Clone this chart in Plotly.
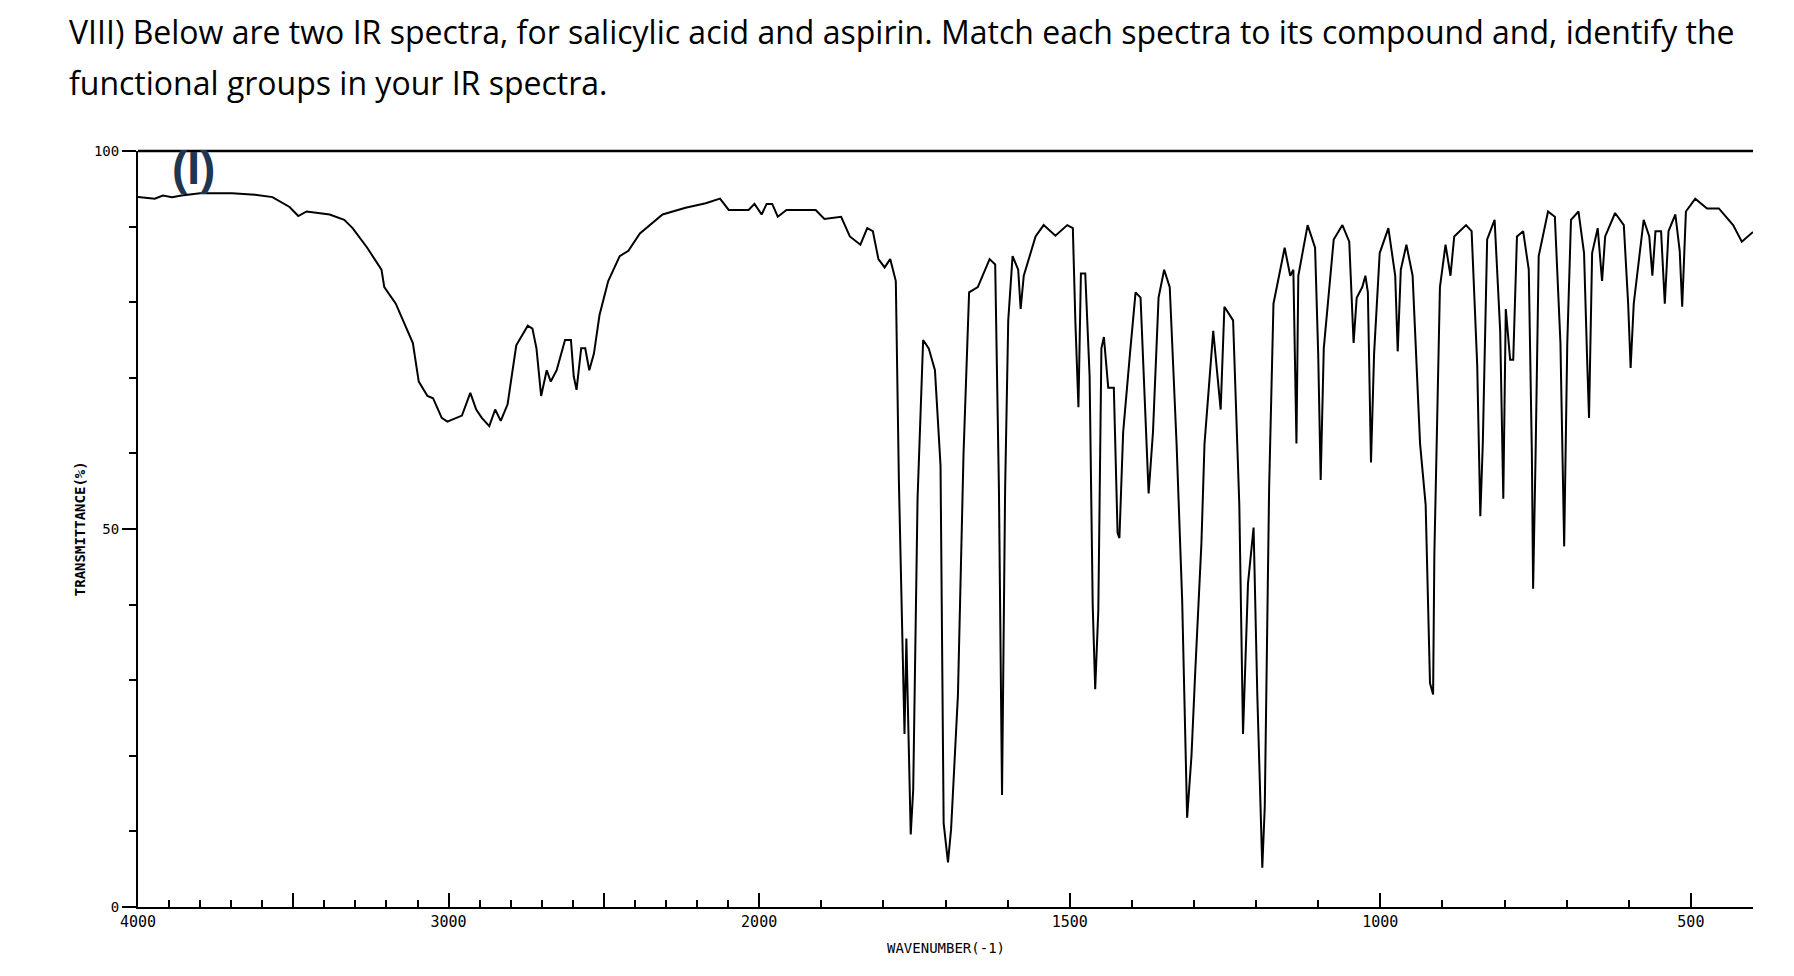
import plotly.graph_objects as go

wavenumber = [4000,3946,3920,3890,3860,3800,3697,3623,3567,3512,3484,3457,3383,3336,3309,3262,3216,3207,3170,3142,3115,3096,3068,3050,3022,3004,2957,2930,2911,2893,2869,2850,2832,2810,2782,2745,2730,2717,2702,2684,2671,2652,2625,2606,2597,2588,2573,2560,2547,2532,2514,2486,2449,2421,2384,2311,2237,2172,2126,2098,2034,2015,1996,1988,1979,1970,1956,1909,1895,1868,1854,1837,1826,1817,1808,1798,1789,1780,1775,1766,1763,1756,1752,1745,1736,1727,1717,1708,1703,1696,1691,1680,1671,1662,1648,1629,1620,1614,1609,1604,1599,1592,1583,1579,1574,1555,1542,1523,1504,1495,1491,1486,1482,1475,1468,1463,1459,1454,1449,1445,1438,1429,1423,1420,1414,1403,1394,1386,1380,1373,1366,1357,1348,1339,1328,1319,1311,1304,1298,1288,1283,1277,1269,1263,1257,1251,1237,1227,1221,1213,1204,1198,1190,1186,1179,1172,1163,1154,1145,1140,1135,1132,1117,1105,1100,1096,1091,1075,1061,1050,1043,1038,1029,1024,1020,1015,1010,1001,987,976,972,967,958,948,936,927,920,915,913,904,895,887,881,862,853,844,839,835,828,816,807,802,798,791,786,780,770,761,756,754,750,745,730,719,710,704,699,693,681,672,667,664,659,650,643,638,622,608,601,597,592,576,567,562,557,548,542,536,525,518,514,508,493,474,455,432,418,400]
transmittance = [93.9,93.7,94.1,93.9,94.1,94.4,94.4,94.2,93.9,92.6,91.4,92.0,91.6,90.9,89.8,87.2,84.3,82.0,79.8,77.2,74.6,69.5,67.6,67.3,64.7,64.2,65.0,68.0,65.8,64.7,63.6,65.8,64.3,66.5,74.3,76.9,76.5,73.9,67.6,71.0,69.5,71.0,75.0,75.0,70.2,68.4,73.9,73.9,71.0,73.2,78.3,82.8,86.1,86.8,89.1,91.6,92.5,93.1,93.7,92.2,92.2,93.0,91.6,93.0,93.0,91.3,92.2,92.2,91.0,91.3,88.7,87.6,89.8,89.4,85.7,84.6,85.7,82.8,56.2,22.9,35.5,9.6,15.5,54.0,75.0,73.9,71.0,58.4,11.1,5.9,10.3,28.0,59.9,81.3,82.0,85.7,85.0,55.4,14.8,55.4,77.6,86.1,84.3,79.1,83.5,88.7,90.2,88.8,90.2,89.8,77.6,66.1,83.8,83.8,70.2,39.9,28.8,39.2,73.9,75.4,68.7,68.7,49.5,48.8,62.8,73.2,81.3,80.6,68.7,54.7,62.8,80.6,84.3,82.0,61.3,40.6,11.8,20.0,31.0,48.1,61.3,68.0,76.2,71.0,65.8,79.4,77.6,53.2,22.9,42.8,50.2,28.0,5.2,13.3,55.4,79.8,83.5,87.2,83.5,84.3,61.3,83.5,90.2,87.2,73.2,56.5,73.9,88.3,90.2,88.0,74.6,80.6,82.0,83.5,81.3,58.8,73.2,86.5,89.8,83.5,73.5,84.3,87.6,83.5,61.3,53.2,29.6,28.1,46.6,82.0,87.6,83.5,88.7,90.2,89.4,71.7,51.7,61.3,88.3,90.9,76.2,54.0,79.1,72.4,72.4,88.7,89.4,84.3,59.9,42.1,59.9,86.1,92.0,91.3,74.6,47.7,74.6,90.9,92.0,86.5,72.4,64.7,86.5,89.8,82.8,88.7,91.8,90.2,79.8,71.3,79.8,90.9,88.7,83.5,89.4,89.4,79.8,89.4,91.6,86.8,79.4,92.0,93.7,92.4,92.4,90.2,88.0,89.3]

major_ticks = [4000, 3500, 3000, 2500, 2000, 1500, 1000, 500]
major_labels = ["4000", "", "3000", "", "2000", "1500", "1000", "500"]
y_ticks = [0, 50, 100]
y_labels = ["0", "50", "100"]

def u(w):
    return 4000 - w if w >= 2000 else 2000 + 2 * (2000 - w)

minor_wn = [w for w in range(4000, 399, -100) if w not in major_ticks]

fig = go.Figure()
fig.add_trace(go.Scatter(x=[u(w) for w in wavenumber], y=transmittance, mode="lines",
                         line=dict(color="black", width=2), hoverinfo="skip", cliponaxis=False))
mono = "DejaVu Sans Mono"
fig.update_layout(
    width=1794, height=976, paper_bgcolor="white", plot_bgcolor="white",
    margin=dict(l=130, r=49, t=143, b=77), showlegend=False,
    xaxis=dict(range=[0, u(400)], tickvals=[u(w) for w in major_ticks], ticktext=major_labels,
               ticks="inside", ticklen=14, tickwidth=2, tickcolor="black", showgrid=False,
               zeroline=False, showline=True, linecolor="black", linewidth=2,
               tickfont=dict(family=mono, size=15, color="black"),
               minor=dict(tickvals=[u(w) for w in minor_wn], ticks="inside", ticklen=7,
                          tickwidth=2, tickcolor="black")),
    yaxis=dict(range=[0, 100], tickvals=y_ticks, ticktext=y_labels, ticks="outside",
               ticklen=14, tickwidth=2, tickcolor="black", showgrid=False, zeroline=False,
               showline=True, linecolor="black", linewidth=2,
               tickfont=dict(family=mono, size=14, color="black"),
               minor=dict(dtick=10, ticks="outside", ticklen=7, tickwidth=2, tickcolor="black")),
)
fig.add_shape(type="line", xref="paper", yref="paper", x0=0, x1=1, y0=1, y1=1, layer="above",
              line=dict(color="black", width=2.5))
fig.add_annotation(xref="paper", yref="paper", x=0.5, y=-0.054, xanchor="center", yanchor="middle",
                   text="WAVENUMBER(-1)", showarrow=False,
                   font=dict(family=mono, size=14, color="black"))
fig.add_annotation(xref="paper", yref="paper", x=-0.042, y=0.5, textangle=-90,
                   text="<b>TRANSMITTANCE(%)</b>", showarrow=False,
                   font=dict(family=mono, size=14, color="black"))
fig.add_annotation(xref="x", yref="y", x=u(3820), y=97.8, text="<b>(I)</b>", showarrow=False,
                   font=dict(family="Liberation Sans", size=46, color="#1f3550"))
title_lines = ["VIII) Below are two IR spectra, for salicylic acid and aspirin. Match each spectra to its compound and, identify the",
               "functional groups in your IR spectra."]
for line, yy in zip(title_lines, [1.158, 1.09]):
    fig.add_annotation(xref="paper", yref="paper", x=-0.044, y=yy, xanchor="left", yanchor="middle",
                       text=line, showarrow=False,
                       font=dict(family="Open Sans", size=32, color="black"))
fig.write_html("out.html")
